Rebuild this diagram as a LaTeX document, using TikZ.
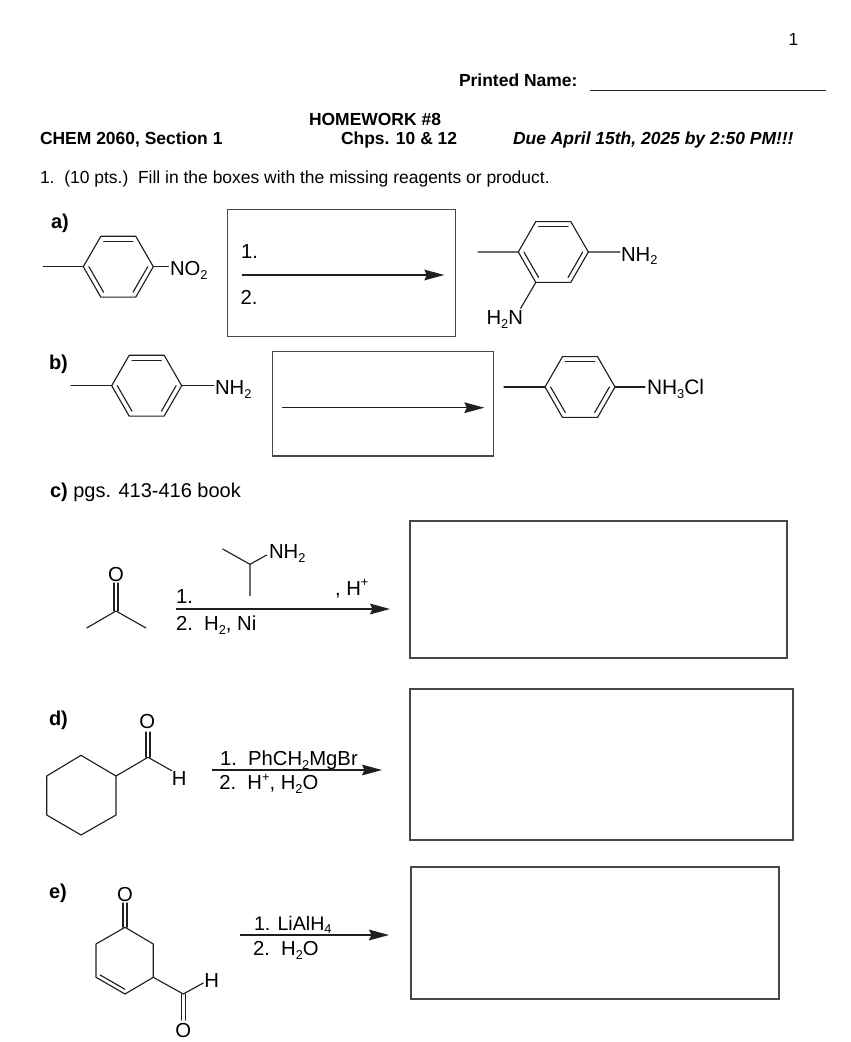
\documentclass[tikz,border=0pt]{standalone}
\usepackage{fontspec}
\setmainfont{Liberation Sans}
\usetikzlibrary{calc,arrows.meta}
\newcommand\dn[1]{\raisebox{-0.33ex}{\fontsize{9.6}{10}\selectfont #1}}
\newcommand\up[1]{\raisebox{0.75ex}{\fontsize{9.6}{10}\selectfont #1}}
\tikzset{
  txt/.style={anchor=base west,inner sep=0pt,outer sep=0pt,yshift=-0.75pt,font=\fontsize{13.1}{15}\selectfont},
  head/.style={txt,font=\fontsize{13.1}{15}\selectfont\bfseries},
  chem/.style={anchor=base west,inner sep=0pt,outer sep=0pt,yshift=-0.75pt,font=\fontsize{15.2}{17}\selectfont},
  atom/.style={anchor=center,inner sep=0pt,outer sep=0pt,yshift=-0.4pt,font=\fontsize{15.2}{17}\selectfont},
  bond/.style={line width=0.85pt,color=black!88,line cap=round,line join=round},
  answerbox/.style={line width=0.85pt,color=black!72},
  rxn/.style={line width=0.85pt,color=black!88,-{Stealth[length=15pt,width=8pt,inset=1.9pt]}},
}
% para-disubstituted benzene: #1 prefix, #2 x of left vertex, #3 y of left vertex
\newcommand\arene[3]{
  \coordinate (#1l)  at (#2,#3);
  \coordinate (#1tl) at ($(#2,#3)+(17.5,-30.4)$);
  \coordinate (#1tr) at ($(#2,#3)+(52.5,-30.4)$);
  \coordinate (#1r)  at ($(#2,#3)+(70,0)$);
  \coordinate (#1br) at ($(#2,#3)+(52.5,30.4)$);
  \coordinate (#1bl) at ($(#2,#3)+(17.5,30.4)$);
  \coordinate (#1c)  at ($(#2,#3)+(35,0)$);
  \draw[bond] (#1l)--(#1tl)--(#1tr)--(#1r)--(#1br)--(#1bl)--cycle;
  \draw[bond] ($(#1tl)!0.16!(#1c)$)--($(#1tr)!0.16!(#1c)$);
  \draw[bond] ($(#1r)!0.16!(#1c)$)--($(#1br)!0.16!(#1c)$);
  \draw[bond] ($(#1l)!0.16!(#1c)$)--($(#1bl)!0.16!(#1c)$);
}
% double bond: #1,#2 end points (names), drawn as two parallel lines
\newcommand\dbl[2]{
  \draw[bond] ($(#1)!1.5pt!90:(#2)$)--($(#2)!1.5pt!-90:(#1)$);
  \draw[bond] ($(#1)!1.5pt!-90:(#2)$)--($(#2)!1.5pt!90:(#1)$);
}
\begin{document}
\begin{tikzpicture}[x=0.75pt,y=-0.75pt]
\useasboundingbox (0,0) rectangle (850,1042);
\fill[white] (0,0) rectangle (850,1042);

% header
\node[txt] (pagenum) at (788.5,44.5) {1};
\node[head] (printed) at (459,85.5) {Printed Name:};
\coordinate (nameL) at (590,90); \coordinate (nameR) at (826,90);
\draw[line width=0.7pt,color=black!85] (nameL)--(nameR);
\node[head] (hw) at (309,124.5) {HOMEWORK \#8};
\node[head] (course) at (40,143.5) {CHEM 2060, Section 1};
\node[head] (chps) at (341,143.5) {Chps. 10 \& 12};
\node[head,font=\fontsize{13.1}{15}\selectfont\bfseries\itshape] (due) at (513,143.5) {Due April 15th, 2025 by 2:50 PM!!!};
\node[txt] (q1) at (40,182.5) {1.\ \ (10 pts.)\ \ Fill in the boxes with the missing reagents or product.};

% a
\node[head,font=\fontsize{15}{17}\selectfont\bfseries] (la) at (51,227) {a)};
\arene{A}{83.3}{266.7}
\coordinate (Am) at (43.3,266.7);
\coordinate (Ano) at (168.3,266.7);
\draw[bond] (Am)--(Al) (Ar)--(Ano);
\node[chem] (no2) at (170,274.5) {NO\dn{2}};
\draw[answerbox] (227.3,209.3) rectangle (455.3,336.7);
\node[chem] (a1) at (241,257) {1.};
\node[chem] (a2) at (240.5,303.5) {2.};
\coordinate (aas) at (241.7,275); \coordinate (aae) at (444.3,275);
\draw[rxn] (aas)--(aae);
\arene{P}{518.3}{252}
\coordinate (Pm) at (478,252);
\coordinate (Pn) at (620,252);
\coordinate (Pn2) at (520.7,308.3);
\draw[bond] (Pm)--(Pl) (Pr)--(Pn) (Pbl)--(Pn2);
\node[chem] (pnh2) at (621,260) {NH\dn{2}};
\node[chem] (ph2n) at (486.5,323.5) {H\dn{2}N};

% b
\node[head,font=\fontsize{15}{17}\selectfont\bfseries] (lb) at (49,368) {b)};
\arene{B}{111.7}{385.7}
\coordinate (Bm) at (71,385.7);
\coordinate (Bn) at (214,385.7);
\draw[bond] (Bm)--(Bl) (Br)--(Bn);
\node[chem] (bnh2) at (215,393.5) {NH\dn{2}};
\draw[answerbox] (272.3,351.3) rectangle (493.3,456);
\coordinate (bas) at (281.7,407.7); \coordinate (bae) at (484.3,407.7);
\draw[rxn] (bas)--(bae);
\arene{Q}{545}{387}
\coordinate (Qm) at (504,387);
\coordinate (Qn) at (645,387);
\draw[bond] (Qm)--(Ql) (Qr)--(Qn);
\node[chem,font=\fontsize{15.7}{17}\selectfont] (qnh) at (647,393.5) {NH\dn{3}Cl};

% c
\node[chem,font=\fontsize{15}{17}\selectfont] (lc) at (50,496.5) {\textbf{c)} pgs. 413-416 book};
\coordinate (Kc) at (116,611);
\coordinate (Kl) at (86.7,628);
\coordinate (Kr) at (146,628);
\coordinate (Ko) at (116,583);
\draw[bond] (Kl)--(Kc)--(Kr);
\dbl{Kc}{Ko}
\node[atom] (koo) at (116,574) {O};
\coordinate (Ic) at (250,564.3);
\coordinate (Il) at (222.7,549);
\coordinate (In) at (266.7,555);
\coordinate (Id) at (250,595.7);
\draw[bond] (Il)--(Ic)--(In) (Ic)--(Id);
\node[chem] (inh) at (269,557.5) {NH\dn{2}};
\node[chem] (chp) at (335,594) {, H\up{+}};
\node[chem] (c1) at (176,602) {1.};
\node[chem] (c2) at (176,629.5) {2.\ \ H\dn{2}, Ni};
\coordinate (cas) at (175.7,609); \coordinate (cae) at (390,609);
\draw[rxn,line width=1.1pt] (cas)--(cae);
\draw[answerbox] (410,521) rectangle (787,658);

% d
\node[head,font=\fontsize{15}{17}\selectfont\bfseries] (ld) at (49,724) {d)};
\coordinate (C1) at (116,776);
\coordinate (C2) at (81,755.3);
\coordinate (C3) at (46.7,776);
\coordinate (C4) at (46.7,815);
\coordinate (C5) at (81,835);
\coordinate (C6) at (116,815);
\draw[bond] (C1)--(C2)--(C3)--(C4)--(C5)--(C6)--cycle;
\coordinate (Dc) at (148,757.3);
\coordinate (Do) at (148,732);
\coordinate (Dh) at (171.7,770.7);
\draw[bond] (C1)--(Dc)--(Dh);
\dbl{Dc}{Do}
\node[atom] (doo) at (147.3,721) {O};
\node[atom] (dhh) at (179.3,778) {H};
\coordinate (das) at (212.3,770); \coordinate (dae) at (382,770);
\draw[rxn] (das)--(dae);
\node[chem] (d1) at (220,764.5) {1.\ \ PhCH\dn{2}MgBr};
\node[chem] (d2) at (219.3,788.5) {2.\ \ H\up{+}, H\dn{2}O};
\draw[answerbox] (410,689) rectangle (793,840);

% e
\node[head,font=\fontsize{15}{17}\selectfont\bfseries] (le) at (49,897) {e)};
\coordinate (E1) at (125,927.3);
\coordinate (E2) at (153.3,944);
\coordinate (E3) at (153.3,977.3);
\coordinate (E4) at (125,994);
\coordinate (E5) at (96,977.3);
\coordinate (E6) at (96,944);
\coordinate (Ec) at (125,960.5);
\draw[bond] (E1)--(E2)--(E3)--(E4)--(E5)--(E6)--cycle;
\draw[bond] ($(E4)!0.14!(Ec)$)--($(E5)!0.14!(Ec)$);
\coordinate (Eo) at (125,903);
\dbl{E1}{Eo}
\node[atom] (eoo) at (125,894) {O};
\coordinate (Ef) at (183.3,994);
\coordinate (Eh) at (203.3,983);
\coordinate (Eo2) at (183.3,1020);
\draw[bond] (E3)--(Ef)--(Eh);
\dbl{Ef}{Eo2}
\node[atom] (ehh) at (211.7,980) {H};
\node[atom] (eo2o) at (183.3,1030) {O};
\coordinate (eas) at (240,935); \coordinate (eae) at (389,935);
\draw[rxn] (eas)--(eae);
\node[chem,font=\fontsize{14.7}{17}\selectfont] (e1) at (254,929.5) {1. LiAlH\dn{4}};
\node[chem] (e2) at (253,954.5) {2.\ \ H\dn{2}O};
\draw[answerbox] (411,867) rectangle (779,999);
\end{tikzpicture}
\end{document}
